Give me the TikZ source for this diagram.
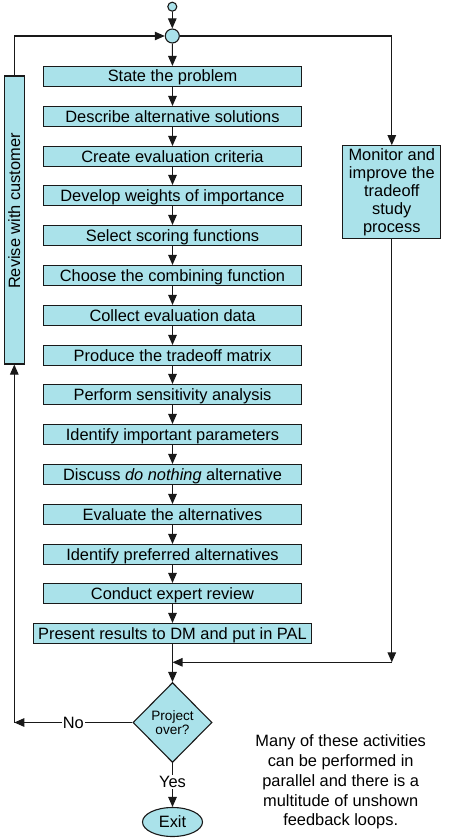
\documentclass[tikz,border=0pt]{standalone}
\usepackage{fontspec}
\setmainfont{Liberation Sans}
\usetikzlibrary{shapes.geometric,arrows.meta}
\definecolor{boxfill}{RGB}{170,226,234}
\definecolor{lncol}{RGB}{25,25,25}
\begin{document}
\begin{tikzpicture}[x=1pt,y=-1pt,
  every node/.style={font=\fontsize{16.4}{19}\selectfont},
  shp/.style={draw=lncol, line width=1.1pt, fill=boxfill, inner sep=0pt},
  stepbox/.style={shp, minimum width=258pt, minimum height=20pt, text height=11pt, text depth=0pt},
  arr/.style={draw=lncol, -{Triangle[length=10pt,width=8.5pt]}, line width=1.1pt},
  lbl/.style={fill=white, inner sep=1pt}]
\useasboundingbox (0,0) rectangle (449,840);

\node[shp, circle, minimum size=9pt] (start) at (172.3,6.7) {};
\node[shp, circle, minimum size=14pt] (join) at (172.3,36) {};

\foreach \t [count=\i] in {State the problem, Describe alternative solutions,
  Create evaluation criteria, Develop weights of importance, Select scoring functions,
  Choose the combining function, Collect evaluation data, Produce the tradeoff matrix,
  Perform sensitivity analysis, Identify important parameters,
  {Discuss \textit{do nothing} alternative}, Evaluate the alternatives,
  Identify preferred alternatives, Conduct expert review}
  \node[stepbox] (s\i) at (172.5,{round(76+39.8*(\i-1))+0.5}) {\t};
\node[stepbox, minimum width=278pt] (s15) at (172.5,633.5) {Present results to DM and put in PAL};

\draw[arr] (start) -- (join);
\draw[arr] (join) -- (s1);
\foreach \i [evaluate=\i as \j using int(\i+1)] in {1,...,14}
  \draw[arr] (s\i) -- (s\j);

\node[shp, minimum width=98pt, minimum height=92.6pt, align=center,
  font=\fontsize{16.4}{18}\selectfont] (mon) at (391.8,192)
  {Monitor and\\improve the\\tradeoff\\study\\process};
\draw[arr] (join.east) -| (mon.north);

\coordinate (rc) at (391.8,662.3);
\coordinate (m) at (172.5,662.3);
\draw[arr] (mon.south) -- (rc);
\draw[arr] (rc) -- (m);

\node[shp, diamond, minimum width=79pt, minimum height=80pt, align=center,
  font=\fontsize{13.6}{14.5}\selectfont] (dia) at (172.5,722.5) {Project\\over?};
\draw[arr] (s15.south) -- (dia.north);

\node[shp, minimum width=20pt, minimum height=288pt] (revise) at (14.3,220) {};
\node[rotate=90, inner sep=0pt] (revtext) at (14.3,211) {Revise with customer};
\draw[arr] (revise.north) |- (join.west);

\coordinate (nc) at (14.3,722.5);
\draw[arr] (dia.west) -- node[lbl, pos=0.5] {No} (nc);
\draw[arr] (nc) -- (revise.south);

\node[shp, ellipse, minimum width=60pt, minimum height=29pt] (exit) at (172.5,822) {Exit};
\draw[arr] (dia.south) -- node[lbl, pos=0.43] {Yes} (exit.north);

\node[align=center, inner sep=0pt, font=\fontsize{16.4}{19.8}\selectfont] (note) at (340.7,782)
  {Many of these activities\\can be performed in\\parallel and there is a\\multitude of unshown\\feedback loops.};
\end{tikzpicture}
\end{document}
